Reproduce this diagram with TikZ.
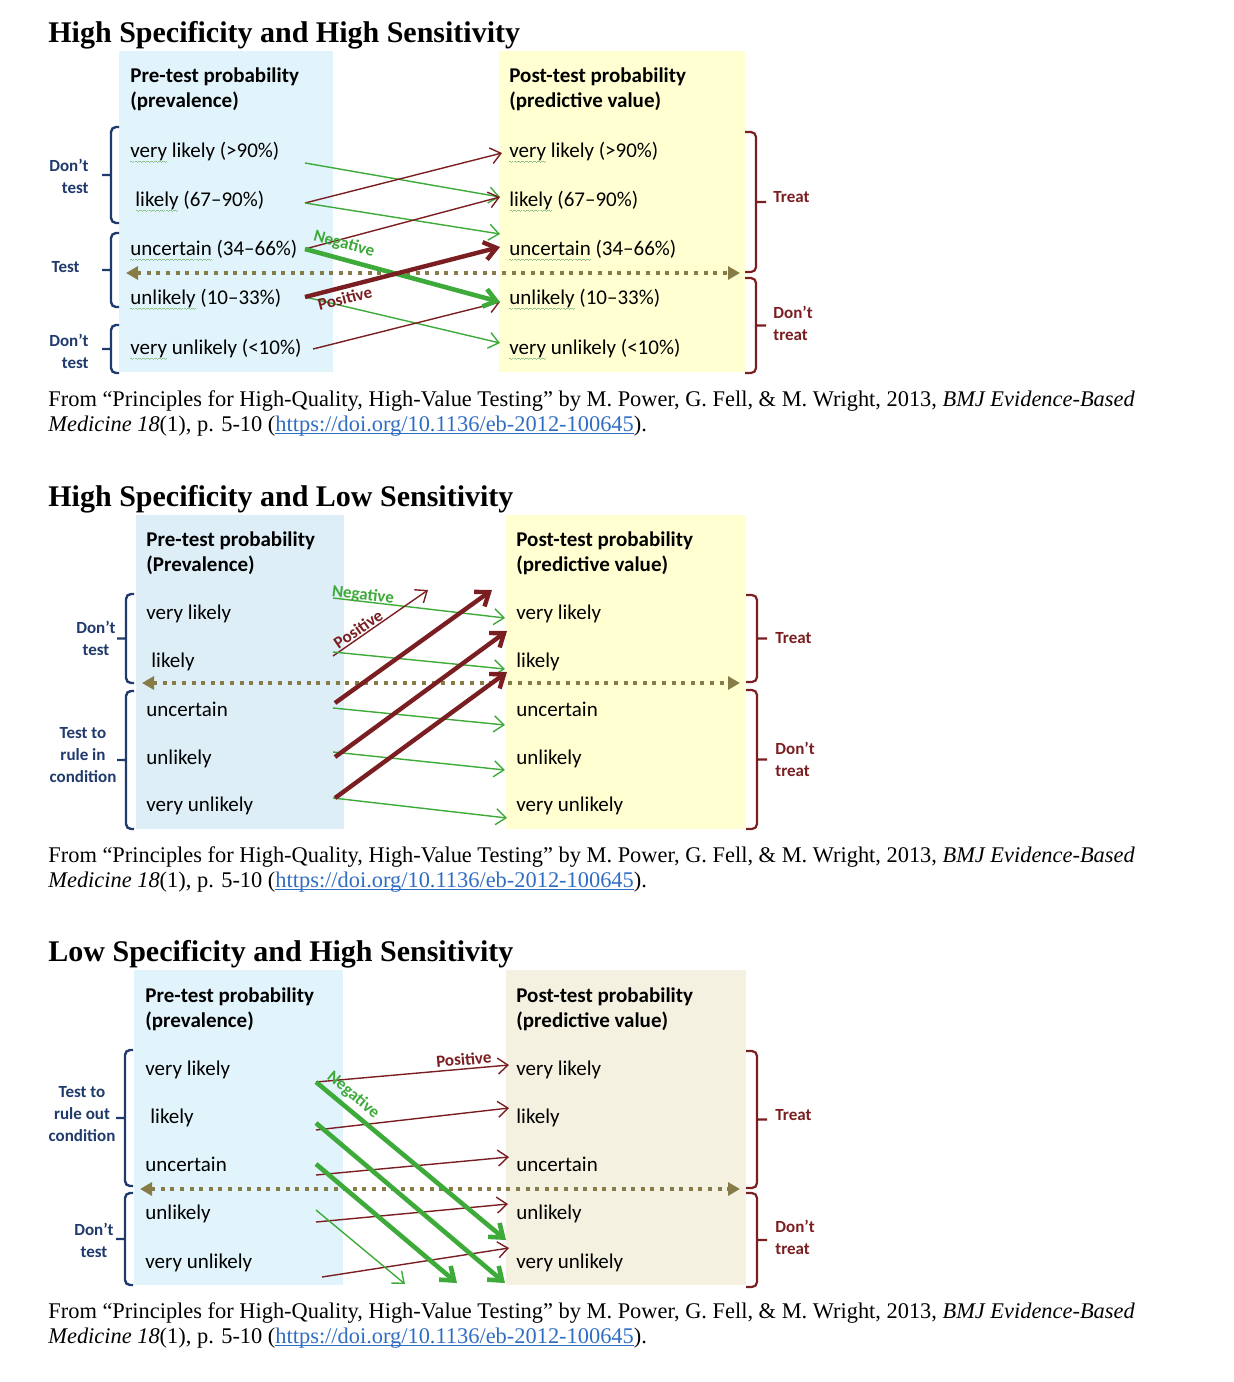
\documentclass[tikz,border=0pt]{standalone}
\usepackage{fontspec}
\setmainfont{Liberation Serif}
\newfontfamily\calib{Carlito}
\usepackage{tikz}
\usetikzlibrary{
  arrows.meta,
  positioning,
  calc
}
\definecolor{ppPre}{HTML}{E1F4FB}
\definecolor{ppPreDim}{HTML}{DDEEF7}
\definecolor{ppPost}{HTML}{FFFFD1}
\definecolor{ppPostDim}{HTML}{F4F1E1}
\definecolor{ppNavy}{HTML}{1F3A6B}
\definecolor{ppRed}{HTML}{7A1E21}
\definecolor{ppGreen}{HTML}{3DAA3A}
\definecolor{ppOlive}{HTML}{877C47}
\definecolor{ppLink}{HTML}{2F6DC3}
\definecolor{ppSquig}{HTML}{8FC48F}
\newlength\ppwidth
\newcommand{\spelled}[1]{\settowidth{\ppwidth}{#1}\rlap{\textcolor{ppSquig}{\hbox to\ppwidth{\xleaders\hbox{\rule[-2.2pt]{0.5pt}{0.45pt}\rule[-2.6pt]{0.5pt}{0.45pt}\rule[-3pt]{0.5pt}{0.45pt}\rule[-2.6pt]{0.5pt}{0.45pt}}\hfil}}}#1}
\newcommand{\linkline}[1]{\settowidth{\ppwidth}{#1}\rlap{\rule[-1.4pt]{\ppwidth}{0.5pt}}#1}
\tikzset{
  itemtxt/.style={
    font=\calib\fontsize{10.5}{12.5}\selectfont, anchor=west,
    inner sep=0pt, text height=8pt, text depth=2pt
  },
  headtxt/.style={itemtxt, font=\calib\bfseries\fontsize{10.5}{12.5}\selectfont},
  sidelab/.style={font=\calib\bfseries\fontsize{8.5}{11}\selectfont, inner sep=0pt},
  testlab/.style={sidelab, text=ppNavy},
  treatlab/.style={sidelab, text=ppRed, anchor=west, align=left},
  lbrk/.style={draw=ppNavy, line width=1.2pt, rounded corners=2.5pt,
    to path={-- ++(-4pt,0) -- ($(\tikztotarget)+(-4pt,0)$) -- (\tikztotarget)
      ($(\tikztostart)!0.5!(\tikztotarget)+(-4pt,0)$) -- ++(-4.5pt,0)}},
  rbrk/.style={draw=ppRed, line width=1.1pt, rounded corners=2.5pt,
    to path={-- ++(5.5pt,0) -- ($(\tikztotarget)+(5.5pt,0)$) -- (\tikztotarget)
      ($(\tikztostart)!0.5!(\tikztotarget)+(5.5pt,0)$) -- ++(5pt,0)}},
  cutoff/.style={
    {Triangle[length=6pt,width=6.5pt]}-{Triangle[length=6pt,width=6.5pt]},
    line width=2pt, ppOlive, dash pattern=on 2pt off 2.8pt
  },
  negthin/.style={-{Straight Barb[length=5pt,width=8pt]}, line width=0.7pt, ppGreen},
  negthick/.style={-{Straight Barb[length=6pt,width=9pt]}, line width=2.3pt, ppGreen},
  posthin/.style={-{Straight Barb[length=5pt,width=8pt]}, line width=0.7pt, ppRed},
  posthick/.style={-{Straight Barb[length=6pt,width=9pt]}, line width=2.2pt, ppRed},
  neglab/.style={font=\calib\bfseries\fontsize{8.5}{10}\selectfont, text=ppGreen, inner sep=0pt, sloped},
  poslab/.style={neglab, text=ppRed},
  paneltitle/.style={font=\bfseries\fontsize{15}{18}\selectfont, anchor=base west, inner sep=0pt},
  source/.style={font=\fontsize{11.2}{13}\selectfont, anchor=base west, inner sep=0pt}
}

\begin{document}
\begin{tikzpicture}[x=0.5pt, y=-0.5pt]
  \useasboundingbox (0,0) rectangle (1234,1382);

  % ---- high specificity, high sensitivity ----
  \node[paneltitle] (t1) at (48,42) {High Specificity and High Sensitivity};
  \fill[ppPre] (119,51) rectangle (333,372);
  \fill[ppPost] (499,51) rectangle (745,372);
  \node[headtxt] (h1a) at (130,76) {Pre-test probability};
  \node[headtxt, below=2.5pt of h1a.south west, anchor=north west] (h1b) {(prevalence)};
  \node[headtxt] (k1a) at (509,76) {Post-test probability};
  \node[headtxt, below=2.5pt of k1a.south west, anchor=north west] (k1b) {(predictive value)};
  \node[itemtxt] (L1a) at (130,151) {\spelled{very} likely (>90\%)};
  \node[itemtxt] (L1b) at (135,200) {\spelled{likely} (67–90\%)};
  \node[itemtxt] (L1c) at (130,249) {\spelled{uncertain} (34–66\%)};
  \node[itemtxt] (L1d) at (130,298) {\spelled{unlikely} (10–33\%)};
  \node[itemtxt] (L1e) at (130,348) {\spelled{very} unlikely (<10\%)};
  \node[itemtxt] (R1a) at (509,151) {\spelled{very} likely (>90\%)};
  \node[itemtxt] (R1b) at (509,200) {\spelled{likely} (67–90\%)};
  \node[itemtxt] (R1c) at (509,249) {\spelled{uncertain} (34–66\%)};
  \node[itemtxt] (R1d) at (509,298) {\spelled{unlikely} (10–33\%)};
  \node[itemtxt] (R1e) at (509,348) {\spelled{very} unlikely (<10\%)};
  \draw[lbrk] (119,223) to (119,127);
  \draw[lbrk] (119,307) to (119,233);
  \draw[lbrk] (119,373) to (119,325);
  \node[testlab, anchor=east, align=right] (g1a) at (89,176) {Don’t\\test};
  \node[testlab, anchor=east] (g1b) at (80,267) {Test};
  \node[testlab, anchor=east, align=right] (g1c) at (89,351) {Don’t\\test};
  \draw[rbrk] (745,132) to (745,272);
  \draw[rbrk] (745,278) to (745,373);
  \node[treatlab] (m1a) at (773,197) {Treat};
  \node[treatlab] (m1b) at (773,323) {Don’t\\treat};
  \coordinate (d1l) at (126,273);
  \coordinate (d1r) at (740,273);
  \draw[cutoff] (d1l) -- (d1r);
  \coordinate (a1s1) at (305,163);
  \coordinate (a1s2) at (305,203);
  \coordinate (a1s3) at (305,249);
  \coordinate (a1s4) at (305,297);
  \coordinate (a1s5) at (313,349);
  \coordinate (a1e1) at (502,153);
  \coordinate (a1e2) at (500,197);
  \coordinate (a1e3) at (500,234);
  \coordinate (a1e3b) at (500,247);
  \coordinate (a1e4) at (500,302);
  \coordinate (a1e5) at (500,343);
  \draw[negthin] (a1s1) -- (a1e2);
  \draw[posthin] (a1s2) -- (a1e1);
  \draw[negthin] (a1s2) -- (a1e3);
  \draw[posthin] (a1s3) -- (a1e2);
  \draw[negthin] (a1s4) -- (a1e5);
  \draw[posthin] (a1s5) -- (a1e4);
  \draw[negthick] (a1s3) -- node[neglab, pos=0.18, above=2.5pt] (n1) {Negative} (a1e4);
  \draw[posthick] (a1s4) -- node[poslab, pos=0.19, below=1.5pt] (p1) {Positive} (a1e3b);
  \node[source] (src1a) at (48,406) {From “Principles for High-Quality, High-Value Testing” by M. Power, G. Fell, \& M. Wright, 2013, \textit{BMJ Evidence-Based}};
  \node[source] (src1b) at (48,431) {\textit{Medicine 18}(1), p. 5-10 (\textcolor{ppLink}{\linkline{https://doi.org/10.1136/eb-2012-100645}}).};

  % ---- high specificity, low sensitivity ----
  \node[paneltitle] (t2) at (48,506) {High Specificity and Low Sensitivity};
  \fill[ppPreDim] (136,515) rectangle (344,829);
  \fill[ppPost] (506,515) rectangle (746,829);
  \node[headtxt] (h2a) at (146,540) {Pre-test probability};
  \node[headtxt, below=2.5pt of h2a.south west, anchor=north west] (h2b) {(Prevalence)};
  \node[headtxt] (k2a) at (516,540) {Post-test probability};
  \node[headtxt, below=2.5pt of k2a.south west, anchor=north west] (k2b) {(predictive value)};
  \node[itemtxt] (L2a) at (146,613) {very likely};
  \node[itemtxt] (L2b) at (151,661) {likely};
  \node[itemtxt] (L2c) at (146,710) {uncertain};
  \node[itemtxt] (L2d) at (146,758) {unlikely};
  \node[itemtxt] (L2e) at (146,805) {very unlikely};
  \node[itemtxt] (R2a) at (516,613) {very likely};
  \node[itemtxt] (R2b) at (516,661) {likely};
  \node[itemtxt] (R2c) at (516,710) {uncertain};
  \node[itemtxt] (R2d) at (516,758) {unlikely};
  \node[itemtxt] (R2e) at (516,805) {very unlikely};
  \draw[lbrk] (134,683) to (134,594);
  \draw[lbrk] (134,829) to (134,691);
  \node[testlab, align=center] (g2a) at (96,638) {Don’t\\test};
  \node[testlab, align=center] (g2b) at (83,755) {Test to\\rule in\\condition};
  \draw[rbrk] (746,595) to (746,682);
  \draw[rbrk] (746,690) to (746,829);
  \node[treatlab] (m2a) at (775,638) {Treat};
  \node[treatlab] (m2b) at (775,759) {Don’t\\treat};
  \coordinate (d2l) at (142,683);
  \coordinate (d2r) at (740,683);
  \draw[cutoff] (d2l) -- (d2r);
  \coordinate (b2n) at (333,598);
  \coordinate (b2p) at (333,656);
  \coordinate (b2s2) at (333,652);
  \coordinate (b2s3) at (333,708);
  \coordinate (b2s4) at (333,752);
  \coordinate (b2s5) at (333,798);
  \coordinate (b2t3) at (335,703);
  \coordinate (b2t4) at (335,757);
  \coordinate (b2t5) at (335,798);
  \coordinate (b2x) at (428,590);
  \coordinate (b2e1) at (505,618);
  \coordinate (b2e2) at (505,669);
  \coordinate (b2e3) at (505,725);
  \coordinate (b2e4) at (505,770);
  \coordinate (b2e5) at (507,818);
  \coordinate (b2u1) at (492,590);
  \coordinate (b2u2) at (507,631);
  \coordinate (b2u3) at (507,672);
  \draw[negthin] (b2n) -- node[neglab, pos=0.17, above=-1pt] (n2) {Negative} (b2e1);
  \draw[posthin] (b2p) -- node[poslab, pos=0.31, above=0.5pt] (p2) {Positive} (b2x);
  \draw[negthin] (b2s2) -- (b2e2);
  \draw[negthin] (b2s3) -- (b2e3);
  \draw[negthin] (b2s4) -- (b2e4);
  \draw[negthin] (b2s5) -- (b2e5);
  \draw[posthick] (b2t3) -- (b2u1);
  \draw[posthick] (b2t4) -- (b2u2);
  \draw[posthick] (b2t5) -- (b2u3);
  \node[source] (src2a) at (48,862) {From “Principles for High-Quality, High-Value Testing” by M. Power, G. Fell, \& M. Wright, 2013, \textit{BMJ Evidence-Based}};
  \node[source] (src2b) at (48,887) {\textit{Medicine 18}(1), p. 5-10 (\textcolor{ppLink}{\linkline{https://doi.org/10.1136/eb-2012-100645}}).};

  % ---- low specificity, high sensitivity ----
  \node[paneltitle] (t3) at (48,961) {Low Specificity and High Sensitivity};
  \fill[ppPre] (134,970) rectangle (343,1285);
  \fill[ppPostDim] (506,970) rectangle (746,1285);
  \node[headtxt] (h3a) at (145,996) {Pre-test probability};
  \node[headtxt, below=2.5pt of h3a.south west, anchor=north west] (h3b) {(prevalence)};
  \node[headtxt] (k3a) at (516,996) {Post-test probability};
  \node[headtxt, below=2.5pt of k3a.south west, anchor=north west] (k3b) {(predictive value)};
  \node[itemtxt] (L3a) at (145,1069) {very likely};
  \node[itemtxt] (L3b) at (150,1117) {likely};
  \node[itemtxt] (L3c) at (145,1165) {uncertain};
  \node[itemtxt] (L3d) at (145,1213) {unlikely};
  \node[itemtxt] (L3e) at (145,1262) {very unlikely};
  \node[itemtxt] (R3a) at (516,1069) {very likely};
  \node[itemtxt] (R3b) at (516,1117) {likely};
  \node[itemtxt] (R3c) at (516,1165) {uncertain};
  \node[itemtxt] (R3d) at (516,1213) {unlikely};
  \node[itemtxt] (R3e) at (516,1262) {very unlikely};
  \draw[lbrk] (133,1186) to (133,1050);
  \draw[lbrk] (133,1285) to (133,1193);
  \node[testlab, align=center] (g3a) at (82,1114) {Test to\\rule out\\condition};
  \node[testlab, align=center] (g3b) at (94,1240) {Don’t\\test};
  \draw[rbrk] (746,1051) to (746,1188);
  \draw[rbrk] (746,1193) to (746,1287);
  \node[treatlab] (m3a) at (775,1115) {Treat};
  \node[treatlab] (m3b) at (775,1237) {Don’t\\treat};
  \coordinate (d3l) at (140,1189);
  \coordinate (d3r) at (740,1189);
  \draw[cutoff] (d3l) -- (d3r);
  \coordinate (c3s1) at (316,1082);
  \coordinate (c3s2) at (316,1130);
  \coordinate (c3s3) at (316,1175);
  \coordinate (c3s4) at (316,1222);
  \coordinate (c3s5) at (322,1277);
  \coordinate (c3t2) at (316,1123);
  \coordinate (c3t3) at (316,1164);
  \coordinate (c3t4) at (316,1210);
  \coordinate (c3r1) at (509,1065);
  \coordinate (c3r2) at (509,1108);
  \coordinate (c3r3) at (509,1157);
  \coordinate (c3r4) at (508,1204);
  \coordinate (c3r5) at (509,1248);
  \coordinate (c3g1) at (506,1240);
  \coordinate (c3g2) at (505,1283);
  \coordinate (c3g3) at (457,1283);
  \coordinate (c3g4) at (405,1284);
  \draw[posthin] (c3s1) -- node[poslab, pos=0.77, above=1.5pt] (p3) {Positive} (c3r1);
  \draw[posthin] (c3s2) -- (c3r2);
  \draw[posthin] (c3s3) -- (c3r3);
  \draw[posthin] (c3s4) -- (c3r4);
  \draw[posthin] (c3s5) -- (c3r5);
  \draw[negthick] (c3s1) -- node[neglab, pos=0.15, above=2pt] (n3) {Negative} (c3g1);
  \draw[negthick] (c3t2) -- (c3g2);
  \draw[negthick] (c3t3) -- (c3g3);
  \draw[negthin] (c3t4) -- (c3g4);
  \node[source] (src3a) at (48,1318) {From “Principles for High-Quality, High-Value Testing” by M. Power, G. Fell, \& M. Wright, 2013, \textit{BMJ Evidence-Based}};
  \node[source] (src3b) at (48,1343) {\textit{Medicine 18}(1), p. 5-10 (\textcolor{ppLink}{\linkline{https://doi.org/10.1136/eb-2012-100645}}).};
\end{tikzpicture}
\end{document}
